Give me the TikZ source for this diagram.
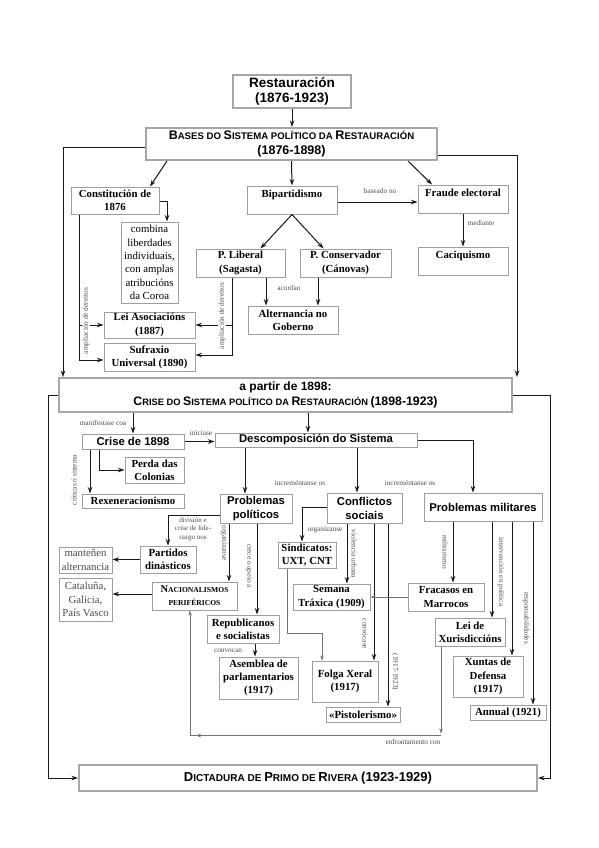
\documentclass[tikz,border=0pt]{standalone}
\usepackage{fontspec}
\setmainfont{Liberation Serif}
\newfontfamily\sansf{Liberation Sans}
\usetikzlibrary{arrows.meta}
\newcommand\fserb{\fontsize{10.8}{13.3}\selectfont\bfseries}
\newcommand\fser{\fontsize{10.8}{13.3}\selectfont}
\newcommand\fsan{\sansf\fontsize{11.3}{14}\selectfont\bfseries}
\newcommand\fsanT{\sansf\fontsize{13.5}{15.5}\selectfont\bfseries}
\newcommand\fsanB{\sansf\fontsize{12}{15}\selectfont\bfseries}
\newcommand\fnac{\fontsize{10.5}{13}\selectfont\bfseries}
\newcommand\flab{\fontsize{7.3}{8.5}\selectfont}
\newcommand\CapA[2]{{\fontsize{#1}{15}\selectfont #2}}
\begin{document}
\begin{tikzpicture}[x=1pt,y=-1pt,
  nbox/.style={draw=black!38, line width=1pt, fill=white, inner sep=1pt, align=center, font=\fserb, text=black},
  bigbox/.style={nbox, draw=black!35, line width=2pt},
  wh/.style 2 args={minimum width=#1pt, minimum height=#2pt},
  arr/.style={-{Stealth[length=6.5pt,width=4.5pt]}, line width=1pt, black!90},
  garr/.style={-{Stealth[length=5pt,width=3.6pt]}, line width=0.5pt, black!55},
  gline/.style={line width=0.5pt, black!55},
  lab/.style={font=\flab, text=black!70, inner sep=0.5pt},
  vlab/.style={lab, rotate=90, fill=white},
  vlabr/.style={lab, rotate=-90},
]
\useasboundingbox (0,0) rectangle (599,848);
\fill[white] (0,0) rectangle (599,848);

% ---------- nodes ----------
\node[bigbox, wh={118}{33}, font=\fsanT] (top) at (292,91.5) {Restauración\\(1876-1923)};
\node[bigbox, wh={291}{32}, font=\fsanB] (bases) at (291.5,144) {\CapA{12.5}{B}\CapA{9.6}{ASES DO }\CapA{12.5}{S}\CapA{9.6}{ISTEMA POLÍTICO DA }\CapA{12.5}{R}\CapA{9.6}{ESTAURACIÓN}\\\CapA{12.5}{(1876-1898)}};
\node[nbox, wh={88}{27}] (const) at (115,200.5) {Constitución de\\1876};
\node[nbox, wh={90}{28}] (bipart) at (292,200) {Bipartidismo\\\mbox{}};
\node[nbox, wh={90}{28}] (fraude) at (463,199) {Fraude electoral\\\mbox{}};
\node[nbox, wh={90}{28}] (caciq) at (463,261) {Caciquismo\\\mbox{}};
\node[nbox, wh={57}{81}, font=\fser] (combina) at (149.5,262.5) {combina\\liberdades\\individuais,\\con amplas\\atribucións\\da Coroa};
\node[nbox, wh={89}{28}] (lib) at (240.5,263) {P. Liberal\\(Sagasta)};
\node[nbox, wh={91}{28}] (cons) at (345.5,263) {P. Conservador\\(Cánovas)};
\node[nbox, wh={90}{28}] (alt) at (293,320) {Alternancia no\\Goberno};
\node[nbox, wh={91}{26}] (lei) at (149.5,325) {Lei Asociacións\\(1887)};
\node[nbox, wh={91}{28}] (sufr) at (149.5,357) {Sufraxio\\Universal (1890)};
\node[bigbox, wh={453}{34}, font=\fsanB] (partir) at (285.5,395) {a partir de 1898:\\\CapA{12.3}{C}\CapA{9.3}{RISE DO }\CapA{12.3}{S}\CapA{9.3}{ISTEMA POLÍTICO DA }\CapA{12.3}{R}\CapA{9.3}{ESTAURACIÓN }\CapA{12.3}{(1898-1923)}};
\node[nbox, wh={102}{15}, font=\fsan] (crise) at (133,441.5) {Crise de 1898};
\node[nbox, wh={59}{26}] (perda) at (154.5,470) {Perda das\\Colonias};
\node[nbox, wh={102}{14}] (rexen) at (133,501) {Rexeneracionismo};
\node[nbox, wh={202}{14}, font=\fsan] (desc) at (316,440) {Descomposición do Sistema};
\node[nbox, wh={72}{29}, font=\fsan] (ppol) at (256,508.5) {Problemas\\políticos};
\node[nbox, wh={75}{30}, font=\fsan] (csoc) at (364.5,508) {Conflictos\\sociais};
\node[nbox, wh={118}{28}, font=\fsan] (pmil) at (483,507) {Problemas militares};
\node[nbox, wh={56}{27}] (part) at (168,559.5) {Partidos\\dinásticos};
\node[nbox, wh={53}{26}, font=\fser, text=black!70] (mant) at (85.5,560) {manteñen\\alternancia};
\node[nbox, wh={85}{28}, font=\fnac] (nac) at (194.5,596) {\CapA{10.5}{N}\CapA{7.6}{ACIONALISMOS}\\\CapA{7.6}{PERIFÉRICOS}};
\node[nbox, wh={53}{43}, font=\fser, text=black!70] (catal) at (85.5,599.5) {Cataluña,\\Galicia,\\País Vasco};
\node[nbox, wh={72}{28}] (rep) at (243,629) {Republicanos\\e socialistas};
\node[nbox, wh={79}{42}] (asem) at (258.5,678) {Asemblea de\\parlamentarios\\(1917)};
\node[nbox, wh={58}{26}] (sind) at (307,555) {Sindicatos:\\UXT, CNT};
\node[nbox, wh={77}{26}] (sem) at (331.5,597) {Semana\\Tráxica (1909)};
\node[nbox, wh={66}{41}] (folga) at (345,681.5) {Folga Xeral\\(1917)};
\node[nbox, wh={74}{15}] (pist) at (363,714.5) {«Pistolerismo»};
\node[nbox, wh={76}{28}] (frac) at (446,597) {Fracasos en\\Marrocos};
\node[nbox, wh={70}{28}] (leix) at (470,632) {Lei de\\Xurisdiccións};
\node[nbox, wh={70}{41}] (xunt) at (488,676.5) {Xuntas de\\Defensa\\(1917)};
\node[nbox, wh={76}{15}] (annual) at (508,712.5) {Annual (1921)};
\node[bigbox, wh={458}{26}, font=\fsanB] (dict) at (308,778) {\CapA{13}{D}\CapA{10}{ICTADURA DE }\CapA{13}{P}\CapA{10}{RIMO DE }\CapA{13}{R}\CapA{10}{IVERA }\CapA{13}{(1923-1929)}};

% ---------- connectors: upper part ----------
\draw[arr] (top.south) -- (top.south |- bases.north);
\draw[arr] ([yshift=-3pt]bases.west) -| ([xshift=5pt]partir.north west);
\draw[arr] ([yshift=-11pt]bases.east) -| ([xshift=4pt]partir.north east);
\draw[arr] ([xshift=-124.5pt]bases.south) -- ([xshift=35pt]const.north);
\draw[arr] (bases.south) -- (bipart.north);
\draw[arr] ([xshift=116.5pt]bases.south) -- ([xshift=-31pt]fraude.north);
\draw[arr] ([yshift=-2pt]bipart.east) -- ([yshift=-3pt]fraude.west);
\draw[arr] (fraude.south) -- (caciq.north);
\draw[arr] (bipart.south) -- ([xshift=20pt]lib.north);
\draw[arr] (bipart.south) -- ([xshift=-22pt]cons.north);
\draw[arr] ([xshift=25.5pt]lib.south) -- ([xshift=-27pt]alt.north);
\draw[arr] ([xshift=-27.5pt]cons.south) -- ([xshift=25pt]alt.north);
\draw[arr] ([yshift=-0.5pt]const.east) -| ([xshift=17.5pt]combina.north);
\coordinate (cl) at ([xshift=-36pt]const.south);
\draw[arr] (cl) |- ([yshift=-3pt]sufr.west);
\draw[arr] (cl |- lei.west) -- (lei.west);
\coordinate (lb) at ([xshift=-8.5pt]lib.south);
\draw[arr] (lb) |- ([yshift=2pt]sufr.east);
\draw[arr] (lb |- lei.east) -- (lei.east);

% ---------- connectors: lower part ----------
\draw[arr] (crise.north |- partir.south) -- (crise.north);
\coordinate (dtop) at ([xshift=-8pt]desc.north);
\draw[arr] (dtop |- partir.south) -- (dtop);
\draw[arr] (crise.east) -- (crise.east -| desc.west);
\coordinate (cr1) at ([xshift=-34pt]crise.south);
\draw[arr] (cr1) |- (perda.west);
\coordinate (cr2) at ([xshift=-43pt]crise.south);
\draw[arr] (cr2) -- (cr2 |- rexen.north);
\coordinate (pp) at ([xshift=-11pt]ppol.north);
\draw[arr] (pp |- desc.south) -- (pp);
\coordinate (cs) at ([xshift=-7.5pt]csoc.north);
\draw[arr] (cs |- desc.south) -- (cs);
\draw[arr] (desc.east) -| ([xshift=-10pt]pmil.north);
\draw[arr] ([yshift=-6.5pt]ppol.west) -| (part.north);
\draw[arr] (part.west) -- (part.west -| mant.east);
\coordinate (pn) at ([xshift=-27pt]ppol.south);
\draw[arr] (pn) -- (pn |- nac.north);
\draw[arr] ([yshift=2pt]nac.west) -- ([yshift=2pt]nac.west -| catal.east);
\coordinate (pr) at ([xshift=1pt]ppol.south);
\draw[arr] (pr) -- (pr |- rep.north);
\coordinate (ra) at ([xshift=12pt]rep.south);
\draw[arr] (ra) -- (ra |- asem.north);
\draw[arr] ([yshift=1pt]csoc.west) -| ([xshift=-5pt]sind.north);
\coordinate (cs1) at ([xshift=-17.5pt]csoc.south);
\draw[arr] (cs1) -- (cs1 |- sem.north);
\coordinate (cs2) at ([xshift=9.5pt]csoc.south);
\draw[arr] (cs2) -- (cs2 |- folga.north);
\coordinate (cs3) at ([xshift=23.5pt]csoc.south);
\draw[arr] (cs3) -- (cs3 |- pist.north);
\draw[garr] ([xshift=-20pt]sind.south) -- ++(0,65) -| ([xshift=-23pt]folga.north);
\draw[garr] (frac.west) -- (frac.west -| sem.east);
\coordinate (pm1) at ([xshift=-30pt]pmil.south);
\draw[arr] (pm1) -- (pm1 |- frac.north);
\coordinate (pm2) at ([xshift=9pt]pmil.south);
\draw[arr] (pm2) -- (pm2 |- leix.north);
\coordinate (pm3) at ([xshift=29pt]pmil.south);
\draw[arr] (pm3) -- (pm3 |- xunt.north);
\coordinate (pm4) at ([xshift=50pt]pmil.south);
\draw[arr] (pm4) -- (pm4 |- annual.north);
\coordinate (lx) at ([xshift=-29pt]leix.south);
\coordinate (ecorner) at ([yshift=-89pt]lx);
\coordinate (nb) at ([xshift=-4.5pt]nac.south);
\draw[garr] (lx) -- ([yshift=2pt]ecorner);
\draw[gline] (ecorner) -- (ecorner -| nb);
\draw[garr] (ecorner) -- ([xshift=6pt]ecorner -| nb);
\draw[garr] (ecorner -| nb) -- (nb);
\draw[arr] (partir.west) -- ++(-10,0) |- (dict.west);
\draw[arr] (partir.east) -- ++(37,0) |- (dict.east);

% ---------- labels ----------
\node[lab] (l1) at (380,191) {baseado no};
\node[lab] (l2) at (481,223) {mediante};
\node[lab] (l3) at (289,288) {acordan};
\node[vlab] (l4) at (86,321) {ampliación de dereitos};
\node[vlab] (l5) at (222,316) {ampliación de dereitos};
\node[lab] (l6) at (103,423) {manifestase coa};
\node[lab] (l7) at (201,433) {iniciase};
\node[vlab] (l8) at (74,480) {críticas ó sistema};
\node[lab] (l9) at (300,483) {increméntanse os};
\node[lab] (l10) at (410,483) {increméntanse os};
\node[lab, align=center, font=\fontsize{7}{8.5}\selectfont] (l11) at (193,529) {división e\\crise de lide-\\razgo nos};
\node[vlabr] (l12) at (224,543) {organízanse};
\node[vlabr] (l13) at (249,566) {crece o apoio a};
\node[lab] (l14) at (228,651) {convocan};
\node[lab] (l15) at (325,530) {organízanse};
\node[vlabr] (l16) at (354,554) {violencia urbana};
\node[vlabr] (l17) at (365,634) {convócase};
\node[vlabr] (l18) at (395,672) {(1917-1923)};
\node[vlabr] (l19) at (445,552) {militarismo};
\node[vlabr] (l20) at (501,572) {intervención en política};
\node[vlabr] (l21) at (526,618) {responsabilidades};
\node[lab] (l22) at (413,742) {enfrontamento con};
\end{tikzpicture}
\end{document}
